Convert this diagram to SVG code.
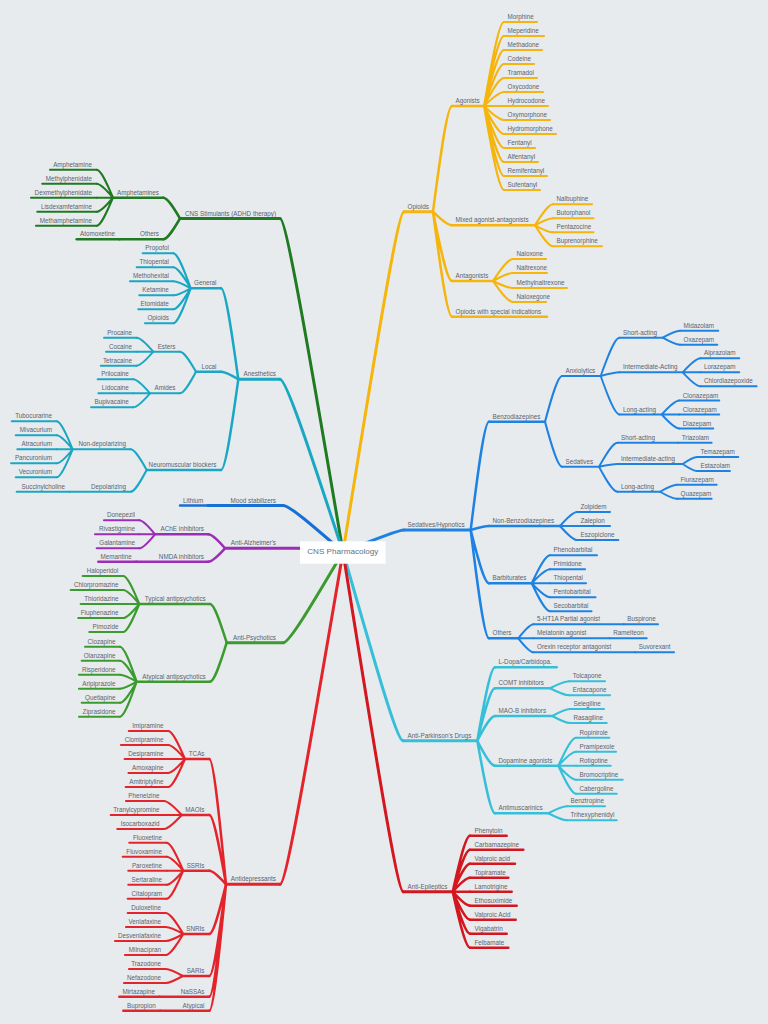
<svg xmlns="http://www.w3.org/2000/svg" width="768" height="1024" viewBox="0 0 768 1024">
<style>
text{font-family:"Liberation Sans",Arial,sans-serif;font-size:6.3px;fill:#5a626c;stroke:none}
.e{text-anchor:end}
path{fill:none;stroke-linecap:round}
.w1{stroke-width:3}.w2{stroke-width:2.5}.w3{stroke-width:2.1}.w4{stroke-width:1.9}
.c1{stroke:#f5b50d}.c2{stroke:#1e82e2}.c3{stroke:#36bfd9}.c4{stroke:#d4161e}.c5{stroke:#1f7a22}
.c6{stroke:#1aa7c4}.c7{stroke:#1770d6}.c8{stroke:#9b2db7}.c9{stroke:#3b9b2e}.c10{stroke:#e3242b}
</style>
<rect width="768" height="1024" fill="#e8ebee"/>
<g id="connectors">
<g class="c1">
<path class="w1" d="M343 552c32.9 -204.2 54.9 -340.3 61 -340.3"/>
<path class="w2" d="M433 211.7c7.6 -58.1 14.3 -105.7 19 -105.7M433 211.7c7.6 7.5 14.3 13.6 19 13.6M433 211.7c7.6 38.1 14.3 69.3 19 69.3M433 211.7c7.6 57.8 14.3 105 19 105"/>
<path class="w3" d="M484 106c8 -46.2 15 -84 20 -84M484 106c8 -38.5 15 -70 20 -70M484 106c8 -30.8 15 -56 20 -56M484 106c8 -23.1 15 -42 20 -42M484 106c8 -15.4 15 -28 20 -28M484 106c8 -7.7 15 -14 20 -14M484 106h20M484 106c8 7.7 15 14 20 14M484 106c8 15.4 15 28 20 28M484 106c8 23.1 15 42 20 42M484 106c8 30.8 15 56 20 56M484 106c8 38.5 15 70 20 70M484 106c8 46.2 15 84 20 84"/>
<path class="w3" d="M535 225.3c7.2 -11.6 13.5 -21 18 -21M535 225.3c7.2 -3.9 13.5 -7 18 -7M535 225.3c7.2 3.9 13.5 7 18 7M535 225.3c7.2 11.6 13.5 21 18 21"/>
<path class="w3" d="M493 281c8 -12.1 15 -22 20 -22M493 281c8 -4.4 15 -8 20 -8M493 281c8 3.9 15 7 20 7M493 281c8 11.6 15 21 20 21"/>
</g>
<g class="c2">
<path class="w1" d="M343 552c32.9 -13.2 54.9 -22 61 -22"/>
<path class="w2" d="M470.7 530c7.3 -59.6 13.7 -108.3 18.3 -108.3M470.7 530c7.3 -2.2 13.7 -4 18.3 -4M470.7 530c7.3 29.3 13.7 53.3 18.3 53.3M470.7 530c7.3 59.6 13.7 108.3 18.3 108.3"/>
<path class="w3" d="M545 421.7c6.8 -25.1 12.8 -45.7 17 -45.7M545 421.7c6.8 24.8 12.8 45 17 45"/>
<path class="w3" d="M560 526c6.8 -7.7 12.8 -14 17 -14M560 526h17M560 526c6.8 7.7 12.8 14 17 14"/>
<path class="w3" d="M531.7 583.3c7.3 -15.4 13.7 -28 18.3 -28M531.7 583.3c7.3 -7.7 13.7 -14 18.3 -14M531.7 583.3h18.3M531.7 583.3c7.3 7.7 13.7 14 18.3 14M531.7 583.3c7.3 15.4 13.7 28 18.3 28"/>
<path class="w3" d="M518.3 638.3c6.1 -7.7 11.4 -14 15.2 -14M518.3 638.3h15.2M518.3 638.3c6.1 7.7 11.4 14 15.2 14"/>
<path class="w4" d="M600.7 376c7.5 -21.1 14.1 -38.3 18.8 -38.3M600.7 376c7.5 -2 14.1 -3.7 18.8 -3.7M600.7 376c7.5 21.2 14.1 38.5 18.8 38.5"/>
<path class="w4" d="M662.7 337.7c6.9 -3.9 13 -7 17.3 -7M662.7 337.7c6.9 3.9 13 7 17.3 7"/>
<path class="w4" d="M682.7 372.3c7.1 -7.7 13.4 -14 17.8 -14M682.7 372.3h17.8M682.7 372.3c7.1 7.7 13.4 14 17.8 14"/>
<path class="w4" d="M661.7 414.5c7 -7.7 13.2 -14 17.6 -14M661.7 414.5h17.6M661.7 414.5c7 7.7 13.2 14 17.6 14"/>
<path class="w4" d="M599 466.7c7.4 -13.2 13.9 -24 18.5 -24M599 466.7c7.4 -1.5 13.9 -2.7 18.5 -2.7M599 466.7c7.4 13.8 13.9 25 18.5 25"/>
<path class="w4" d="M682.7 464c5.7 -3.9 10.7 -7 14.3 -7M682.7 464c5.7 3.9 10.7 7 14.3 7"/>
<path class="w4" d="M660 491.7c6.8 -3.9 12.8 -7 17 -7M660 491.7c6.8 3.9 12.8 7 17 7"/>
</g>
<g class="c3">
<path class="w1" d="M343 552c32.4 113.2 54 188.7 60 188.7"/>
<path class="w2" d="M477.3 740.7c7.1 -40.4 13.3 -73.4 17.7 -73.4M477.3 740.7c7.1 -28.8 13.3 -52.4 17.7 -52.4M477.3 740.7c7.1 -13.6 13.3 -24.7 17.7 -24.7M477.3 740.7c7.1 13.8 13.3 25 17.7 25M477.3 740.7c7.1 39.9 13.3 72.6 17.7 72.6"/>
<path class="w3" d="M550 688.3c7.7 -3.9 14.5 -7 19.3 -7M550 688.3c7.7 3.9 14.5 7 19.3 7"/>
<path class="w3" d="M552.3 716c7.1 -3.9 13.3 -7 17.7 -7M552.3 716c7.1 3.9 13.3 7 17.7 7"/>
<path class="w3" d="M558.3 765.7c7.1 -15.4 13.3 -28 17.7 -28M558.3 765.7c7.1 -7.7 13.3 -14 17.7 -14M558.3 765.7h17.7M558.3 765.7c7.1 7.7 13.3 14 17.7 14M558.3 765.7c7.1 15.4 13.3 28 17.7 28"/>
<path class="w3" d="M548.3 813.3c7.5 -3.9 14 -7 18.7 -7M548.3 813.3c7.5 3.9 14 7 18.7 7"/>
</g>
<g class="c4">
<path class="w1" d="M343 552c32.6 203.8 54.3 339.7 60.3 339.7"/>
<path class="w2" d="M452.7 891.7c6.9 -30.8 13 -56 17.3 -56M452.7 891.7c6.9 -23.1 13 -42 17.3 -42M452.7 891.7c6.9 -15.4 13 -28 17.3 -28M452.7 891.7c6.9 -7.7 13 -14 17.3 -14M452.7 891.7h17.3M452.7 891.7c6.9 7.7 13 14 17.3 14M452.7 891.7c6.9 15.4 13 28 17.3 28M452.7 891.7c6.9 23.1 13 42 17.3 42M452.7 891.7c6.9 30.8 13 56 17.3 56"/>
</g>
<g class="c5">
<path class="w1" d="M343 552c-34 -200.1 -56.7 -333.5 -63 -333.5"/>
<path class="w2" d="M180 218.5c-6.7 -11.4 -12.5 -20.8 -16.7 -20.8M180 218.5c-6.7 11.4 -12.5 20.8 -16.7 20.8"/>
<path class="w3" d="M113 197.7c-6.5 -15.4 -12.2 -28 -16.3 -28M113 197.7c-6.5 -7.7 -12.2 -14 -16.3 -14M113 197.7h-16.3M113 197.7c-6.5 7.7 -12.2 14 -16.3 14M113 197.7c-6.5 15.4 -12.2 28 -16.3 28"/>
</g>
<g class="c6">
<path class="w1" d="M343 552c-34 -103.6 -56.7 -172.7 -63 -172.7"/>
<path class="w2" d="M238.3 379.3c-6.9 -50 -13 -91 -17.3 -91M238.3 379.3c-6.9 -4.2 -13 -7.6 -17.3 -7.6M238.3 379.3c-6.9 49.9 -13 90.7 -17.3 90.7"/>
<path class="w3" d="M190.7 288.3c-7 -19.3 -13 -35 -17.4 -35M190.7 288.3c-7 -11.6 -13 -21 -17.4 -21M190.7 288.3c-7 -3.9 -13 -7 -17.4 -7M190.7 288.3c-7 3.9 -13 7 -17.4 7M190.7 288.3c-7 11.6 -13 21 -17.4 21M190.7 288.3c-7 19.3 -13 35 -17.4 35"/>
<path class="w3" d="M196 371.7c-6.4 -11 -12 -20 -16 -20M196 371.7c-6.4 11.9 -12 21.6 -16 21.6"/>
<path class="w3" d="M146.7 470c-6.4 -11.4 -12 -20.7 -16 -20.7M146.7 470c-6.4 11.9 -12 21.7 -16 21.7"/>
<path class="w4" d="M153.3 351.7c-6.6 -7.7 -12.5 -14 -16.6 -14M153.3 351.7h-16.6M153.3 351.7c-6.6 7.7 -12.5 14 -16.6 14"/>
<path class="w4" d="M150 393.3c-6.7 -7.7 -12.5 -14 -16.7 -14M150 393.3h-16.7M150 393.3c-6.7 7.7 -12.5 14 -16.7 14"/>
<path class="w4" d="M72.7 449.3c-6.4 -15.4 -12 -28 -16 -28M72.7 449.3c-6.4 -7.7 -12 -14 -16 -14M72.7 449.3h-16M72.7 449.3c-6.4 7.7 -12 14 -16 14M72.7 449.3c-6.4 15.4 -12 28 -16 28"/>
</g>
<g class="c7">
<path class="w1" d="M343 552c-32.2 -27.9 -53.7 -46.5 -59.7 -46.5"/>
</g>
<g class="c8">
<path class="w1" d="M343 552c-23.2 -2.2 -38.7 -3.7 -43 -3.7"/>
<path class="w2" d="M225 548.3c-6.7 -7.7 -12.5 -14 -16.7 -14M225 548.3c-6.7 7.4 -12.5 13.4 -16.7 13.4"/>
<path class="w3" d="M155 534.3c-6.3 -7.7 -11.8 -14 -15.7 -14M155 534.3h-15.7M155 534.3c-6.3 7.7 -11.8 14 -15.7 14"/>
</g>
<g class="c9">
<path class="w1" d="M343 552c-32.2 54.4 -53.7 90.7 -59.7 90.7"/>
<path class="w2" d="M226.7 642.7c-6.7 -21.3 -12.5 -38.7 -16.7 -38.7M226.7 642.7c-6.7 21.5 -12.5 39 -16.7 39"/>
<path class="w3" d="M139.3 604c-6.4 -15.4 -12 -28 -16 -28M139.3 604c-6.4 -7.7 -12 -14 -16 -14M139.3 604h-16M139.3 604c-6.4 7.7 -12 14 -16 14M139.3 604c-6.4 15.4 -12 28 -16 28"/>
<path class="w3" d="M136.7 681.7c-6.7 -19.3 -12.5 -35 -16.7 -35M136.7 681.7c-6.7 -11.6 -12.5 -21 -16.7 -21M136.7 681.7c-6.7 -3.9 -12.5 -7 -16.7 -7M136.7 681.7c-6.7 3.9 -12.5 7 -16.7 7M136.7 681.7c-6.7 11.6 -12.5 21 -16.7 21M136.7 681.7c-6.7 19.3 -12.5 35 -16.7 35"/>
</g>
<g class="c10">
<path class="w1" d="M343 552c-34 199.4 -56.7 332.3 -63 332.3"/>
<path class="w2" d="M226 884.3c-6.7 -68.9 -12.5 -125.3 -16.7 -125.3M226 884.3c-6.7 -38.1 -12.5 -69.3 -16.7 -69.3M226 884.3c-6.7 -7.5 -12.5 -13.6 -16.7 -13.6M226 884.3c-6.7 27.3 -12.5 49.7 -16.7 49.7M226 884.3c-6.7 50.4 -12.5 91.7 -16.7 91.7M226 884.3c-6.7 61.8 -12.5 112.4 -16.7 112.4M226 884.3c-6.7 69.5 -12.5 126.4 -16.7 126.4"/>
<path class="w3" d="M185 759c-6.7 -15.4 -12.5 -28 -16.7 -28M185 759c-6.7 -7.7 -12.5 -14 -16.7 -14M185 759h-16.7M185 759c-6.7 7.7 -12.5 14 -16.7 14M185 759c-6.7 15.4 -12.5 28 -16.7 28"/>
<path class="w3" d="M181.7 815c-7.1 -7.7 -13.3 -14 -17.7 -14M181.7 815h-17.7M181.7 815c-7.1 7.7 -13.3 14 -17.7 14"/>
<path class="w3" d="M183.3 870.7c-6.6 -15.4 -12.5 -28 -16.6 -28M183.3 870.7c-6.6 -7.7 -12.5 -14 -16.6 -14M183.3 870.7h-16.6M183.3 870.7c-6.6 7.7 -12.5 14 -16.6 14M183.3 870.7c-6.6 15.4 -12.5 28 -16.6 28"/>
<path class="w3" d="M183.3 934c-7 -11.6 -13.2 -21 -17.6 -21M183.3 934c-7 -3.9 -13.2 -7 -17.6 -7M183.3 934c-7 3.9 -13.2 7 -17.6 7M183.3 934c-7 11.6 -13.2 21 -17.6 21"/>
<path class="w3" d="M182.7 976c-6.8 -3.9 -12.8 -7 -17 -7M182.7 976c-6.8 3.9 -12.8 7 -17 7"/>
</g>
</g>

<!-- Opioids -->
<g id="opioids" class="c1"><path class="w1" d="M404 211.7H433"/><text x="407.5" y="208.7">Opioids</text></g>
<g id="agonists" class="c1"><path class="w2" d="M452 106H484"/><text x="455.5" y="103">Agonists</text></g>
<g id="morphine" class="c1"><path class="w3" d="M504 22H537"/><text x="507.5" y="19">Morphine</text></g>
<g id="meperidine" class="c1"><path class="w3" d="M504 36H544"/><text x="507.5" y="33">Meperidine</text></g>
<g id="methadone" class="c1"><path class="w3" d="M504 50H542"/><text x="507.5" y="47">Methadone</text></g>
<g id="codeine" class="c1"><path class="w3" d="M504 64H534"/><text x="507.5" y="61">Codeine</text></g>
<g id="tramadol" class="c1"><path class="w3" d="M504 78H537"/><text x="507.5" y="75">Tramadol</text></g>
<g id="oxycodone" class="c1"><path class="w3" d="M504 92H543"/><text x="507.5" y="89">Oxycodone</text></g>
<g id="hydrocodone" class="c1"><path class="w3" d="M504 106H548"/><text x="507.5" y="103">Hydrocodone</text></g>
<g id="oxymorphone" class="c1"><path class="w3" d="M504 120H550"/><text x="507.5" y="117">Oxymorphone</text></g>
<g id="hydromorphone" class="c1"><path class="w3" d="M504 134H556"/><text x="507.5" y="131">Hydromorphone</text></g>
<g id="fentanyl" class="c1"><path class="w3" d="M504 148H535"/><text x="507.5" y="145">Fentanyl</text></g>
<g id="alfentanyl" class="c1"><path class="w3" d="M504 162H538"/><text x="507.5" y="159">Alfentanyl</text></g>
<g id="remifentanyl" class="c1"><path class="w3" d="M504 176H547"/><text x="507.5" y="173">Remifentanyl</text></g>
<g id="sufentanyl" class="c1"><path class="w3" d="M504 190H540"/><text x="507.5" y="187">Sufentanyl</text></g>
<g id="mixed" class="c1"><path class="w2" d="M452 225.3H535"/><text x="455.5" y="222.3">Mixed agonist-antagonists</text></g>
<g id="nalbuphine" class="c1"><path class="w3" d="M553 204.3H592"/><text x="556.5" y="201.3">Nalbuphine</text></g>
<g id="butorphanol" class="c1"><path class="w3" d="M553 218.3H593.5"/><text x="556.5" y="215.3">Butorphanol</text></g>
<g id="pentazocine" class="c1"><path class="w3" d="M553 232.3H593.5"/><text x="556.5" y="229.3">Pentazocine</text></g>
<g id="buprenorphine" class="c1"><path class="w3" d="M553 246.3H602"/><text x="556.5" y="243.3">Buprenorphine</text></g>
<g id="antagonists" class="c1"><path class="w2" d="M452 281H493"/><text x="455.5" y="278">Antagonists</text></g>
<g id="naloxone" class="c1"><path class="w3" d="M513 259H546"/><text x="516.5" y="256">Naloxone</text></g>
<g id="naltrexone" class="c1"><path class="w3" d="M513 273H547"/><text x="516.5" y="270">Naltrexone</text></g>
<g id="methylnaltrexone" class="c1"><path class="w3" d="M513 288H567"/><text x="516.5" y="285">Methylnaltrexone</text></g>
<g id="naloxegone" class="c1"><path class="w3" d="M513 302H546"/><text x="516.5" y="299">Naloxegone</text></g>
<g id="special" class="c1"><path class="w2" d="M452 316.7H547"/><text x="455.5" y="313.7">Opiods with special indications</text></g>

<!-- Sedatives/Hypnotics -->
<g id="sedhyp" class="c2"><path class="w1" d="M404 530H470.7"/><text x="407.5" y="527">Sedatives/Hypnotics</text></g>
<g id="benzo" class="c2"><path class="w2" d="M489 421.7H545"/><text x="492.5" y="418.7">Benzodiazepines</text></g>
<g id="anxiolytics" class="c2"><path class="w3" d="M562 376H600.7"/><text x="565.5" y="373">Anxiolytics</text></g>
<g id="anx-short" class="c2"><path class="w4" d="M619.5 337.7H662.7"/><text x="623" y="334.7">Short-acting</text></g>
<g id="midazolam" class="c2"><path class="w4" d="M680 330.7H718.3"/><text x="683.5" y="327.7">Midazolam</text></g>
<g id="oxazepam" class="c2"><path class="w4" d="M680 344.7H717.3"/><text x="683.5" y="341.7">Oxazepam</text></g>
<g id="anx-inter" class="c2"><path class="w4" d="M619.5 372.3H682.7"/><text x="623" y="369.3">Intermediate-Acting</text></g>
<g id="alprazolam" class="c2"><path class="w4" d="M700.5 358.3H739.3"/><text x="704" y="355.3">Alprazolam</text></g>
<g id="lorazepam" class="c2"><path class="w4" d="M700.5 372.3H739.3"/><text x="704" y="369.3">Lorazepam</text></g>
<g id="chlordiazepoxide" class="c2"><path class="w4" d="M700.5 386.3H756.7"/><text x="704" y="383.3">Chlordiazepoxide</text></g>
<g id="anx-long" class="c2"><path class="w4" d="M619.5 414.5H661.7"/><text x="623" y="411.5">Long-acting</text></g>
<g id="clonazepam" class="c2"><path class="w4" d="M679.3 400.5H719.3"/><text x="682.8" y="397.5">Clonazepam</text></g>
<g id="clorazepam" class="c2"><path class="w4" d="M679.3 414.5H719.3"/><text x="682.8" y="411.5">Clorazepam</text></g>
<g id="diazepam" class="c2"><path class="w4" d="M679.3 428.5H713.3"/><text x="682.8" y="425.5">Diazepam</text></g>
<g id="sedatives" class="c2"><path class="w3" d="M562 466.7H599"/><text x="565.5" y="463.7">Sedatives</text></g>
<g id="sed-short" class="c2"><path class="w4" d="M617.5 442.7H678.2"/><text x="621" y="439.7">Short-acting</text></g>
<g id="triazolam" class="c2"><path class="w4" d="M678.2 442.7H711.7"/><text x="681.7" y="439.7">Triazolam</text></g>
<g id="sed-inter" class="c2"><path class="w4" d="M617.5 464H682.7"/><text x="621" y="461">Intermediate-acting</text></g>
<g id="temazepam" class="c2"><path class="w4" d="M697 457H738.3"/><text x="700.5" y="454">Temazepam</text></g>
<g id="estazolam" class="c2"><path class="w4" d="M697 471H730"/><text x="700.5" y="468">Estazolam</text></g>
<g id="sed-long" class="c2"><path class="w4" d="M617.5 491.7H660"/><text x="621" y="488.7">Long-acting</text></g>
<g id="flurazepam" class="c2"><path class="w4" d="M677 484.7H716.7"/><text x="680.5" y="481.7">Flurazepam</text></g>
<g id="quazepam" class="c2"><path class="w4" d="M677 498.7H711.7"/><text x="680.5" y="495.7">Quazepam</text></g>
<g id="nonbenzo" class="c2"><path class="w2" d="M489 526H560"/><text x="492.5" y="523">Non-Benzodiazepines</text></g>
<g id="zolpidem" class="c2"><path class="w3" d="M577 512H610"/><text x="580.5" y="509">Zolpidem</text></g>
<g id="zaleplon" class="c2"><path class="w3" d="M577 526H610"/><text x="580.5" y="523">Zaleplon</text></g>
<g id="eszopiclone" class="c2"><path class="w3" d="M577 540H618.3"/><text x="580.5" y="537">Eszopiclone</text></g>
<g id="barbiturates" class="c2"><path class="w2" d="M489 583.3H531.7"/><text x="492.5" y="580.3">Barbiturates</text></g>
<g id="phenobarbital" class="c2"><path class="w3" d="M550 555.3H597"/><text x="553.5" y="552.3">Phenobarbital</text></g>
<g id="primidone" class="c2"><path class="w3" d="M550 569.3H585"/><text x="553.5" y="566.3">Primidone</text></g>
<g id="thiopental-b" class="c2"><path class="w3" d="M550 583.3H586"/><text x="553.5" y="580.3">Thiopental</text></g>
<g id="pentobarbital" class="c2"><path class="w3" d="M550 597.3H595.5"/><text x="553.5" y="594.3">Pentobarbital</text></g>
<g id="secobarbital" class="c2"><path class="w3" d="M550 611.3H591.5"/><text x="553.5" y="608.3">Secobarbital</text></g>
<g id="sed-others" class="c2"><path class="w2" d="M489 638.3H518.3"/><text x="492.5" y="635.3">Others</text></g>
<g id="ht1a" class="c2"><path class="w3" d="M533.5 624.3H623.8"/><text x="537" y="621.3">5-HT1A Partial agonist</text></g>
<g id="buspirone" class="c2"><path class="w3" d="M623.8 624.3H658"/><text x="627.3" y="621.3">Buspirone</text></g>
<g id="melatonin" class="c2"><path class="w3" d="M533.5 638.3H609.8"/><text x="537" y="635.3">Melatonin agonist</text></g>
<g id="ramelteon" class="c2"><path class="w3" d="M609.8 638.3H646.7"/><text x="613.3" y="635.3">Ramelteon</text></g>
<g id="orexin" class="c2"><path class="w3" d="M533.5 652.3H635.2"/><text x="537" y="649.3">Orexin receptor antagonist</text></g>
<g id="suvorexant" class="c2"><path class="w3" d="M635.2 652.3H674"/><text x="638.7" y="649.3">Suvorexant</text></g>

<!-- Anti-Parkinson's -->
<g id="parkinson" class="c3"><path class="w1" d="M403 740.7H477.3"/><text x="407.5" y="737.7">Anti-Parkinson's Drugs</text></g>
<g id="ldopa" class="c3"><path class="w2" d="M495 667.3H556.7"/><text x="498.5" y="664.3">L-Dopa/Carbidopa.</text></g>
<g id="comt" class="c3"><path class="w2" d="M495 688.3H550"/><text x="498.5" y="685.3">COMT inhibitors</text></g>
<g id="tolcapone" class="c3"><path class="w3" d="M569.3 681.3H605"/><text x="572.8" y="678.3">Tolcapone</text></g>
<g id="entacapone" class="c3"><path class="w3" d="M569.3 695.3H610"/><text x="572.8" y="692.3">Entacapone</text></g>
<g id="maob" class="c3"><path class="w2" d="M495 716H552.3"/><text x="498.5" y="713">MAO-B inhibitors</text></g>
<g id="selegiline" class="c3"><path class="w3" d="M570 709H604"/><text x="573.5" y="706">Selegiline</text></g>
<g id="rasagiline" class="c3"><path class="w3" d="M570 723H606.7"/><text x="573.5" y="720">Rasagiline</text></g>
<g id="dopamine" class="c3"><path class="w2" d="M495 765.7H558.3"/><text x="498.5" y="762.7">Dopamine agonists</text></g>
<g id="ropinirole" class="c3"><path class="w3" d="M576 737.7H609.3"/><text x="579.5" y="734.7">Ropinirole</text></g>
<g id="pramipexole" class="c3"><path class="w3" d="M576 751.7H616"/><text x="579.5" y="748.7">Pramipexole</text></g>
<g id="rotigotine" class="c3"><path class="w3" d="M576 765.7H610.7"/><text x="579.5" y="762.7">Rotigotine</text></g>
<g id="bromocriptine" class="c3"><path class="w3" d="M576 779.7H622.7"/><text x="579.5" y="776.7">Bromocriptine</text></g>
<g id="cabergoline" class="c3"><path class="w3" d="M576 793.7H616.7"/><text x="579.5" y="790.7">Cabergoline</text></g>
<g id="antimuscarinics" class="c3"><path class="w2" d="M495 813.3H548.3"/><text x="498.5" y="810.3">Antimuscarinics</text></g>
<g id="benztropine" class="c3"><path class="w3" d="M567 806.3H605"/><text x="570.5" y="803.3">Benztropine</text></g>
<g id="trihexyphenidyl" class="c3"><path class="w3" d="M567 820.3H616.7"/><text x="570.5" y="817.3">Trihexyphenidyl</text></g>

<!-- Anti-Epileptics -->
<g id="epileptics" class="c4"><path class="w1" d="M403.3 891.7H452.7"/><text x="407.5" y="888.7">Anti-Epileptics</text></g>
<g id="phenytoin" class="c4"><path class="w2" d="M470 835.7H506.7"/><text x="474.5" y="832.7">Phenytoin</text></g>
<g id="carbamazepine" class="c4"><path class="w2" d="M470 849.7H523.3"/><text x="474.5" y="846.7">Carbamazepine</text></g>
<g id="valproic1" class="c4"><path class="w2" d="M470 863.7H515"/><text x="474.5" y="860.7">Valproic acid</text></g>
<g id="topiramate" class="c4"><path class="w2" d="M470 877.7H508.3"/><text x="474.5" y="874.7">Topiramate</text></g>
<g id="lamotrigine" class="c4"><path class="w2" d="M470 891.7H511.7"/><text x="474.5" y="888.7">Lamotrigine</text></g>
<g id="ethosuximide" class="c4"><path class="w2" d="M470 905.7H516.7"/><text x="474.5" y="902.7">Ethosuximide</text></g>
<g id="valproic2" class="c4"><path class="w2" d="M470 919.7H515.7"/><text x="474.5" y="916.7">Valproic Acid</text></g>
<g id="vigabatrin" class="c4"><path class="w2" d="M470 933.7H506.7"/><text x="474.5" y="930.7">Vigabatrin</text></g>
<g id="felbamate" class="c4"><path class="w2" d="M470 947.7H508.3"/><text x="474.5" y="944.7">Felbamate</text></g>

<!-- CNS Stimulants -->
<g id="stimulants" class="c5"><path class="w1" d="M280 218.5H180"/><text class="e" x="276" y="215.5">CNS Stimulants (ADHD therapy)</text></g>
<g id="amphetamines" class="c5"><path class="w2" d="M163.3 197.7H113"/><text class="e" x="159" y="194.7">Amphetamines</text></g>
<g id="amphetamine" class="c5"><path class="w3" d="M96.7 169.7H50"/><text class="e" x="92" y="166.7">Amphetamine</text></g>
<g id="methylphenidate" class="c5"><path class="w3" d="M96.7 183.7H42.3"/><text class="e" x="92" y="180.7">Methylphenidate</text></g>
<g id="dexmethylphenidate" class="c5"><path class="w3" d="M96.7 197.7H31"/><text class="e" x="92" y="194.7">Dexmethylphenidate</text></g>
<g id="lisdexamfetamine" class="c5"><path class="w3" d="M96.7 211.7H37.3"/><text class="e" x="92" y="208.7">Lisdexamfetamine</text></g>
<g id="methamphetamine" class="c5"><path class="w3" d="M96.7 225.7H36"/><text class="e" x="92" y="222.7">Methamphetamine</text></g>
<g id="stim-others" class="c5"><path class="w2" d="M163.3 239.3H119.5"/><text class="e" x="159" y="236.3">Others</text></g>
<g id="atomoxetine" class="c5"><path class="w2" d="M119.5 239.3H76.7"/><text class="e" x="115" y="236.3">Atomoxetine</text></g>

<!-- Anesthetics -->
<g id="anesthetics" class="c6"><path class="w1" d="M280 379.3H238.3"/><text class="e" x="276" y="376.3">Anesthetics</text></g>
<g id="general" class="c6"><path class="w2" d="M221 288.3H190.7"/><text class="e" x="216.5" y="285.3">General</text></g>
<g id="propofol" class="c6"><path class="w3" d="M173.3 253.3H142.7"/><text class="e" x="168.8" y="250.3">Propofol</text></g>
<g id="thiopental-a" class="c6"><path class="w3" d="M173.3 267.3H136.7"/><text class="e" x="168.8" y="264.3">Thiopental</text></g>
<g id="methohexital" class="c6"><path class="w3" d="M173.3 281.3H130"/><text class="e" x="168.8" y="278.3">Methohexital</text></g>
<g id="ketamine" class="c6"><path class="w3" d="M173.3 295.3H139.3"/><text class="e" x="168.8" y="292.3">Ketamine</text></g>
<g id="etomidate" class="c6"><path class="w3" d="M173.3 309.3H138.3"/><text class="e" x="168.8" y="306.3">Etomidate</text></g>
<g id="anes-opioids" class="c6"><path class="w3" d="M173.3 323.3H145"/><text class="e" x="168.8" y="320.3">Opioids</text></g>
<g id="local" class="c6"><path class="w2" d="M221 371.7H196"/><text class="e" x="216.5" y="368.7">Local</text></g>
<g id="esters" class="c6"><path class="w3" d="M180 351.7H153.3"/><text class="e" x="175.5" y="348.7">Esters</text></g>
<g id="procaine" class="c6"><path class="w4" d="M136.7 337.7H104"/><text class="e" x="132" y="334.7">Procaine</text></g>
<g id="cocaine" class="c6"><path class="w4" d="M136.7 351.7H106"/><text class="e" x="132" y="348.7">Cocaine</text></g>
<g id="tetracaine" class="c6"><path class="w4" d="M136.7 365.7H100.7"/><text class="e" x="132" y="362.7">Tetracaine</text></g>
<g id="amides" class="c6"><path class="w3" d="M180 393.3H150"/><text class="e" x="175.5" y="390.3">Amides</text></g>
<g id="prilocaine" class="c6"><path class="w4" d="M133.3 379.3H97.6"/><text class="e" x="128.8" y="376.3">Prilocaine</text></g>
<g id="lidocaine" class="c6"><path class="w4" d="M133.3 393.3H98.3"/><text class="e" x="128.8" y="390.3">Lidocaine</text></g>
<g id="bupivacaine" class="c6"><path class="w4" d="M133.3 407.3H91"/><text class="e" x="128.8" y="404.3">Bupivacaine</text></g>
<g id="neuromuscular" class="c6"><path class="w2" d="M221 470H146.7"/><text class="e" x="216.5" y="467">Neuromuscular blockers</text></g>
<g id="nondepol" class="c6"><path class="w3" d="M130.7 449.3H72.7"/><text class="e" x="126" y="446.3">Non-depolarizing</text></g>
<g id="tubocurarine" class="c6"><path class="w4" d="M56.7 421.3H11.7"/><text class="e" x="52" y="418.3">Tubocurarine</text></g>
<g id="mivacurium" class="c6"><path class="w4" d="M56.7 435.3H15.7"/><text class="e" x="52" y="432.3">Mivacurium</text></g>
<g id="atracurium" class="c6"><path class="w4" d="M56.7 449.3H17.3"/><text class="e" x="52" y="446.3">Atracurium</text></g>
<g id="pancuronium" class="c6"><path class="w4" d="M56.7 463.3H11"/><text class="e" x="52" y="460.3">Pancuronium</text></g>
<g id="vecuronium" class="c6"><path class="w4" d="M56.7 477.3H15.7"/><text class="e" x="52" y="474.3">Vecuronium</text></g>
<g id="depol" class="c6"><path class="w3" d="M130.7 491.7H69.5"/><text class="e" x="126" y="488.7">Depolarizing</text></g>
<g id="succinylcholine" class="c6"><path class="w3" d="M69.5 491.7H16.7"/><text class="e" x="65" y="488.7">Succinylcholine</text></g>

<!-- Mood stabilizers -->
<g id="mood" class="c7"><path class="w1" d="M283.3 505.5H207.8"/><text class="e" x="276" y="502.5">Mood stabilizers</text></g>
<g id="lithium" class="c7"><path class="w2" d="M207.8 505.5H180"/><text class="e" x="203.3" y="502.5">Lithium</text></g>

<!-- Anti-Alzheimer's -->
<g id="alzheimer" class="c8"><path class="w1" d="M300 548.3H225"/><text class="e" x="276" y="545.3">Anti-Alzheimer's</text></g>
<g id="ache" class="c8"><path class="w2" d="M208.3 534.3H155"/><text class="e" x="204" y="531.3">AChE inhibitors</text></g>
<g id="donepezil" class="c8"><path class="w3" d="M139.3 520.3H104"/><text class="e" x="135" y="517.3">Donepezil</text></g>
<g id="rivastigmine" class="c8"><path class="w3" d="M139.3 534.3H95"/><text class="e" x="135" y="531.3">Rivastigmine</text></g>
<g id="galantamine" class="c8"><path class="w3" d="M139.3 548.3H96.7"/><text class="e" x="135" y="545.3">Galantamine</text></g>
<g id="nmda" class="c8"><path class="w2" d="M208.3 561.7H136.2"/><text class="e" x="204" y="558.7">NMDA inhibitors</text></g>
<g id="memantine" class="c8"><path class="w2" d="M136.2 561.7H98.3"/><text class="e" x="131.7" y="558.7">Memantine</text></g>

<!-- Anti-Psychotics -->
<g id="antipsychotics" class="c9"><path class="w1" d="M283.3 642.7H226.7"/><text class="e" x="276" y="639.7">Anti-Psychotics</text></g>
<g id="typical" class="c9"><path class="w2" d="M210 604H139.3"/><text class="e" x="205.7" y="601">Typical antipsychotics</text></g>
<g id="haloperidol" class="c9"><path class="w3" d="M123.3 576H82.7"/><text class="e" x="118.5" y="573">Haloperidol</text></g>
<g id="chlorpromazine" class="c9"><path class="w3" d="M123.3 590H70.7"/><text class="e" x="118.5" y="587">Chlorpromazine</text></g>
<g id="thioridazine" class="c9"><path class="w3" d="M123.3 604H80.7"/><text class="e" x="118.5" y="601">Thioridazine</text></g>
<g id="fluphenazine" class="c9"><path class="w3" d="M123.3 618H78.3"/><text class="e" x="118.5" y="615">Fluphenazine</text></g>
<g id="pimozide" class="c9"><path class="w3" d="M123.3 632H89.3"/><text class="e" x="118.5" y="629">Pimozide</text></g>
<g id="atypical-ap" class="c9"><path class="w2" d="M210 681.7H136.7"/><text class="e" x="205.7" y="678.7">Atypical antipsychotics</text></g>
<g id="clozapine" class="c9"><path class="w3" d="M120 646.7H85"/><text class="e" x="115.5" y="643.7">Clozapine</text></g>
<g id="olanzapine" class="c9"><path class="w3" d="M120 660.7H81.7"/><text class="e" x="115.5" y="657.7">Olanzapine</text></g>
<g id="risperidone" class="c9"><path class="w3" d="M120 674.7H79"/><text class="e" x="115.5" y="671.7">Risperidone</text></g>
<g id="aripiprazole" class="c9"><path class="w3" d="M120 688.7H79"/><text class="e" x="115.5" y="685.7">Aripiprazole</text></g>
<g id="quetiapine" class="c9"><path class="w3" d="M120 702.7H81.7"/><text class="e" x="115.5" y="699.7">Quetiapine</text></g>
<g id="ziprasidone" class="c9"><path class="w3" d="M120 716.7H79"/><text class="e" x="115.5" y="713.7">Ziprasidone</text></g>

<!-- Antidepressants -->
<g id="antidepressants" class="c10"><path class="w1" d="M280 884.3H226"/><text class="e" x="276" y="881.3">Antidepressants</text></g>
<g id="tcas" class="c10"><path class="w2" d="M209.3 759H185"/><text class="e" x="204.5" y="756">TCAs</text></g>
<g id="imipramine" class="c10"><path class="w3" d="M168.3 731H128.8"/><text class="e" x="163.5" y="728">Imipramine</text></g>
<g id="clomipramine" class="c10"><path class="w3" d="M168.3 745H121"/><text class="e" x="163.5" y="742">Clomipramine</text></g>
<g id="desipramine" class="c10"><path class="w3" d="M168.3 759H124.6"/><text class="e" x="163.5" y="756">Desipramine</text></g>
<g id="amoxapine" class="c10"><path class="w3" d="M168.3 773H128.5"/><text class="e" x="163.5" y="770">Amoxapine</text></g>
<g id="amitriptyline" class="c10"><path class="w3" d="M168.3 787H125.7"/><text class="e" x="163.5" y="784">Amitriptyline</text></g>
<g id="maois" class="c10"><path class="w2" d="M209.3 815H181.7"/><text class="e" x="204.5" y="812">MAOIs</text></g>
<g id="phenelzine" class="c10"><path class="w3" d="M164 801H126"/><text class="e" x="159.5" y="798">Phenelzine</text></g>
<g id="tranylcypromine" class="c10"><path class="w3" d="M164 815H110.7"/><text class="e" x="159.5" y="812">Tranylcypromine</text></g>
<g id="isocarboxazid" class="c10"><path class="w3" d="M164 829H117.3"/><text class="e" x="159.5" y="826">Isocarboxazid</text></g>
<g id="ssris" class="c10"><path class="w2" d="M209.3 870.7H183.3"/><text class="e" x="204.5" y="867.7">SSRIs</text></g>
<g id="fluoxetine" class="c10"><path class="w3" d="M166.7 842.7H129.3"/><text class="e" x="162" y="839.7">Fluoxetine</text></g>
<g id="fluvoxamine" class="c10"><path class="w3" d="M166.7 856.7H122.7"/><text class="e" x="162" y="853.7">Fluvoxamine</text></g>
<g id="paroxetine" class="c10"><path class="w3" d="M166.7 870.7H128.3"/><text class="e" x="162" y="867.7">Paroxetine</text></g>
<g id="sertaraline" class="c10"><path class="w3" d="M166.7 884.7H128.3"/><text class="e" x="162" y="881.7">Sertaraline</text></g>
<g id="citalopram" class="c10"><path class="w3" d="M166.7 898.7H127.7"/><text class="e" x="162" y="895.7">Citalopram</text></g>
<g id="snris" class="c10"><path class="w2" d="M209.3 934H183.3"/><text class="e" x="204.5" y="931">SNRIs</text></g>
<g id="duloxetine" class="c10"><path class="w3" d="M165.7 913H127.7"/><text class="e" x="161" y="910">Duloxetine</text></g>
<g id="venlafaxine" class="c10"><path class="w3" d="M165.7 927H126"/><text class="e" x="161" y="924">Venlafaxine</text></g>
<g id="desvenlafaxine" class="c10"><path class="w3" d="M165.7 941H115"/><text class="e" x="161" y="938">Desvenlafaxine</text></g>
<g id="milnacipran" class="c10"><path class="w3" d="M165.7 955H125"/><text class="e" x="161" y="952">Milnacipran</text></g>
<g id="saris" class="c10"><path class="w2" d="M209.3 976H182.7"/><text class="e" x="204.5" y="973">SARIs</text></g>
<g id="trazodone" class="c10"><path class="w3" d="M165.7 969H129"/><text class="e" x="161" y="966">Trazodone</text></g>
<g id="nefazodone" class="c10"><path class="w3" d="M165.7 983H124"/><text class="e" x="161" y="980">Nefazodone</text></g>
<g id="nassas" class="c10"><path class="w2" d="M209.3 996.7H159.5"/><text class="e" x="204.5" y="993.7">NaSSAs</text></g>
<g id="mirtazapine" class="c10"><path class="w2" d="M159.5 996.7H119.3"/><text class="e" x="155" y="993.7">Mirtazapine</text></g>
<g id="atypical-ad" class="c10"><path class="w2" d="M209.3 1010.7H160.2"/><text class="e" x="204.5" y="1007.7">Atypical</text></g>
<g id="bupropion" class="c10"><path class="w2" d="M160.2 1010.7H123.3"/><text class="e" x="155.7" y="1007.7">Bupropion</text></g>

<!-- Root -->
<g id="root"><rect x="300" y="541.3" width="85.5" height="22.4" fill="#ffffff"/><text x="342.8" y="553.8" text-anchor="middle" style="font-size:8.1px;fill:#5e7284">CNS Pharmacology</text></g>
</svg>
